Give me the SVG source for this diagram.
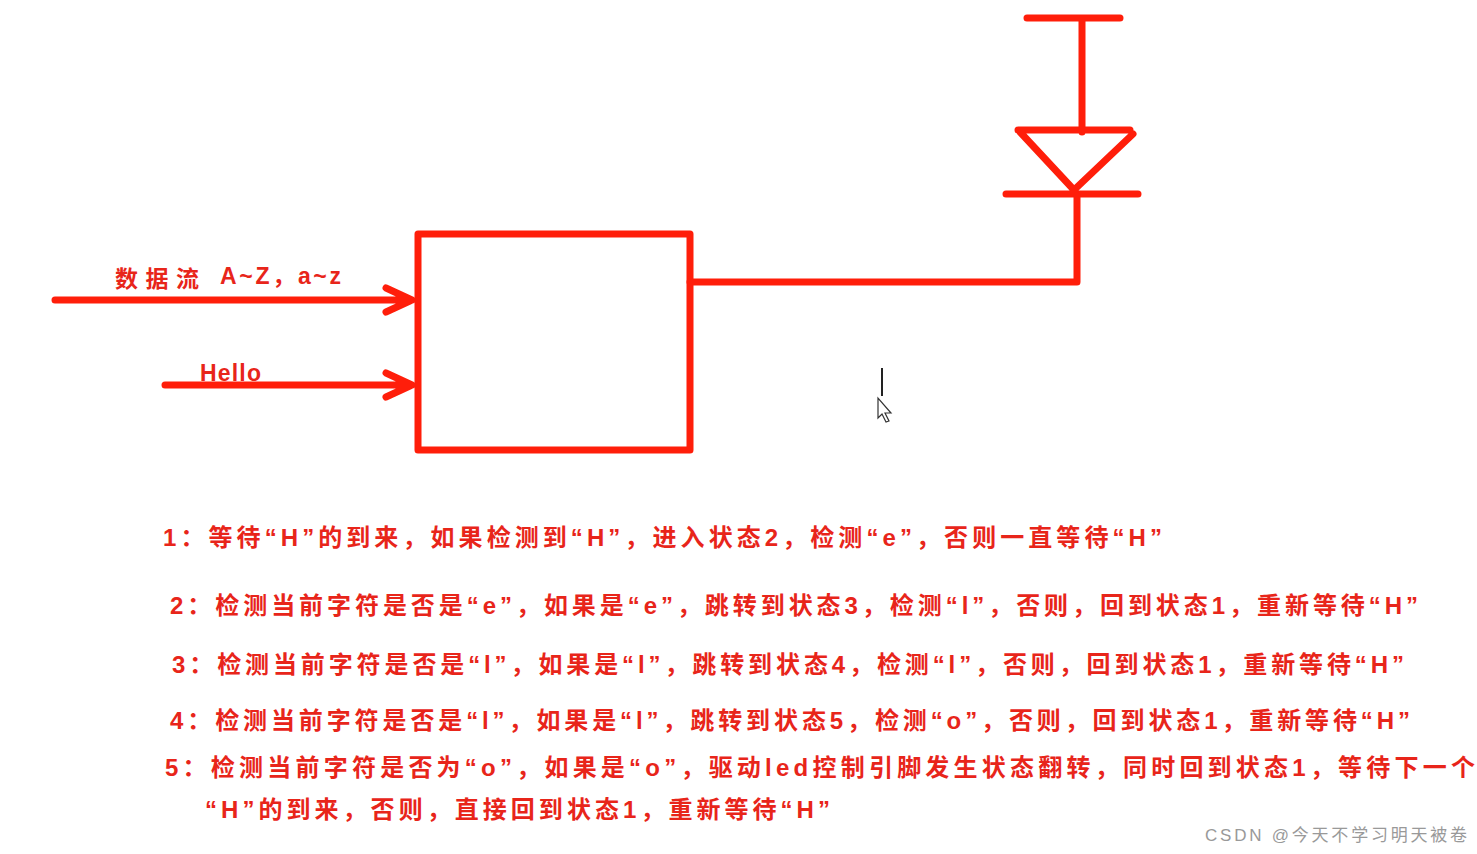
<svg xmlns="http://www.w3.org/2000/svg" width="1477" height="854" viewBox="0 0 1477 854">
<style>
.w{fill:none;stroke:#ff1e0a;stroke-width:7;stroke-linecap:round;stroke-linejoin:round}
.t{fill:#e8251a;font-family:"Liberation Sans","Noto Sans CJK SC",sans-serif;font-weight:bold;font-size:24px}
.l{fill:#e8251a;font-family:"Liberation Sans","Noto Sans CJK SC",sans-serif;font-weight:bold;font-size:23px}
</style>
<rect width="1477" height="854" fill="#fff"/>
<g id="box"><rect x="418" y="234" width="272" height="216" class="w"/></g>
<g id="led">
<path class="w" d="M1027 18H1120M1082 18V132M1018 130H1130M1020 132L1074 190L1133 134M1006 194H1138"/>
</g>
<g id="connectors">
<path class="w" d="M55 300H412M386 288L412 300L386 312"/>
<path class="w" d="M165 385H412M386 373L412 385L386 397"/>
<path class="w" d="M690 282H1077V196"/>
</g>
<text class="l" x="115" y="287" textLength="84">数据流</text>
<text class="l" x="220" y="284" textLength="121">A~Z，a~z</text>
<text class="l" x="200" y="381" textLength="61">Hello</text>
<line x1="882" y1="368" x2="882" y2="396" stroke="#222" stroke-width="2"/>
<path d="M878 398V418L882 414L886 422L889 421L885 413L891 413Z" fill="#fff" stroke="#333" stroke-width="1.2"/>
<g class="t">
<text x="163" y="546" textLength="999">1：等待“H”的到来，如果检测到“H”，进入状态2，检测“e”，否则一直等待“H”</text>
<text x="170" y="614" textLength="1248">2：检测当前字符是否是“e”，如果是“e”，跳转到状态3，检测“l”，否则，回到状态1，重新等待“H”</text>
<text x="172" y="673" textLength="1232">3：检测当前字符是否是“l”，如果是“l”，跳转到状态4，检测“l”，否则，回到状态1，重新等待“H”</text>
<text x="170" y="729" textLength="1240">4：检测当前字符是否是“l”，如果是“l”，跳转到状态5，检测“o”，否则，回到状态1，重新等待“H”</text>
<text x="165" y="776" textLength="1310">5：检测当前字符是否为“o”，如果是“o”，驱动led控制引脚发生状态翻转，同时回到状态1，等待下一个</text>
<text x="205" y="818" textLength="625">“H”的到来，否则，直接回到状态1，重新等待“H”</text>
</g>
<text x="1205" y="841" fill="#999" font-family="Liberation Sans,Noto Sans CJK SC,sans-serif" font-size="17" textLength="262">CSDN @今天不学习明天被卷</text>
</svg>
